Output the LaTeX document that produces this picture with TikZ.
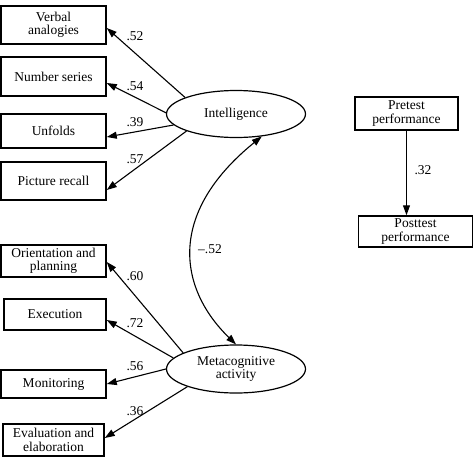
\documentclass[tikz,border=0pt]{standalone}
\usepackage{fontspec}
\setmainfont{Liberation Serif}
\usetikzlibrary{shapes.geometric,arrows.meta,calc}
\begin{document}
\begin{tikzpicture}[x=1pt,y=-1pt,
  every node/.style={font=\fontsize{13.5}{13.5}\selectfont},
  obs/.style={draw,line width=1.5pt,inner sep=0pt,align=center,rectangle},
  lat/.style={draw,line width=1.2pt,ellipse,inner sep=0pt,align=center},
  conn/.style={line width=1.1pt,-{Triangle[length=10pt,width=7pt]}},
  dconn/.style={line width=1.1pt,{Triangle[length=10pt,width=7pt]}-{Triangle[length=10pt,width=7pt]}},
  coef/.style={inner sep=0pt}]
\useasboundingbox (0,0) rectangle (474,474);
% observed boxes
\node[obs,minimum width=105pt,minimum height=38pt] (va) at (53.5,25) {Verbal\\analogies};
\node[obs,minimum width=105pt,minimum height=39pt] (ns) at (53.5,76.5) {Number series};
\node[obs,minimum width=105pt,minimum height=34pt] (uf) at (53.5,131) {Unfolds};
\node[obs,minimum width=105pt,minimum height=38pt] (pr) at (53.5,181) {Picture recall};
\node[obs,minimum width=105pt,minimum height=32pt] (op) at (53.5,261) {Orientation and\\planning};
\node[obs,minimum width=102pt,minimum height=31pt] (ex) at (55,314.5) {Execution};
\node[obs,minimum width=105pt,minimum height=28pt] (mo) at (53.5,384) {Monitoring};
\node[obs,minimum width=101pt,minimum height=32pt] (ee) at (53.5,440) {Evaluation and\\elaboration};
\node[obs,minimum width=103pt,minimum height=33pt] (pre) at (406.5,113.5) {Pretest\\performance};
\node[obs,minimum width=114pt,minimum height=31pt] (post) at (415.5,231.5) {Posttest\\performance};
% latent
\node[lat,minimum width=139pt,minimum height=47pt] (int) at (236,114) {Intelligence};
\node[lat,minimum width=139pt,minimum height=48pt] (meta) at (236,369) {Metacognitive\\activity};
% paths
\draw[conn] (int.162) -- ($(va.east)+(0,3)$);
\draw[conn] (int.179) -- ($(ns.east)+(0,6.5)$);
\draw[conn] (int.190) -- ($(uf.east)+(0,6)$);
\draw[conn] (int.199) -- ($(pr.east)+(0,9)$);
\draw[conn] (meta.163) -- ($(op.east)+(0,1)$);
\draw[conn] (meta.170) -- ($(ex.east)+(0,5.5)$);
\draw[conn] (meta.180) -- (mo.east);
\draw[conn] (meta.200) -- ($(ee.east)+(0,-2)$);
\draw[dconn] (int.-41) .. controls (165,215) and (180,290) .. (meta.north);
\draw[conn] (pre.south) -- (pre.south |- post.north);
% coefficients
\node[coef] (c1) at (135,36) {.52};
\node[coef] (c2) at (135,86) {.54};
\node[coef] (c3) at (135,122) {.39};
\node[coef] (c4) at (135,159) {.57};
\node[coef] (c5) at (135,276) {.60};
\node[coef] (c6) at (135,323) {.72};
\node[coef] (c7) at (135,366) {.56};
\node[coef] (c8) at (135,411) {.36};
\node[coef] (c9) at (210,249) {\textendash.52};
\node[coef] (c10) at (423,170) {.32};
\end{tikzpicture}
\end{document}
